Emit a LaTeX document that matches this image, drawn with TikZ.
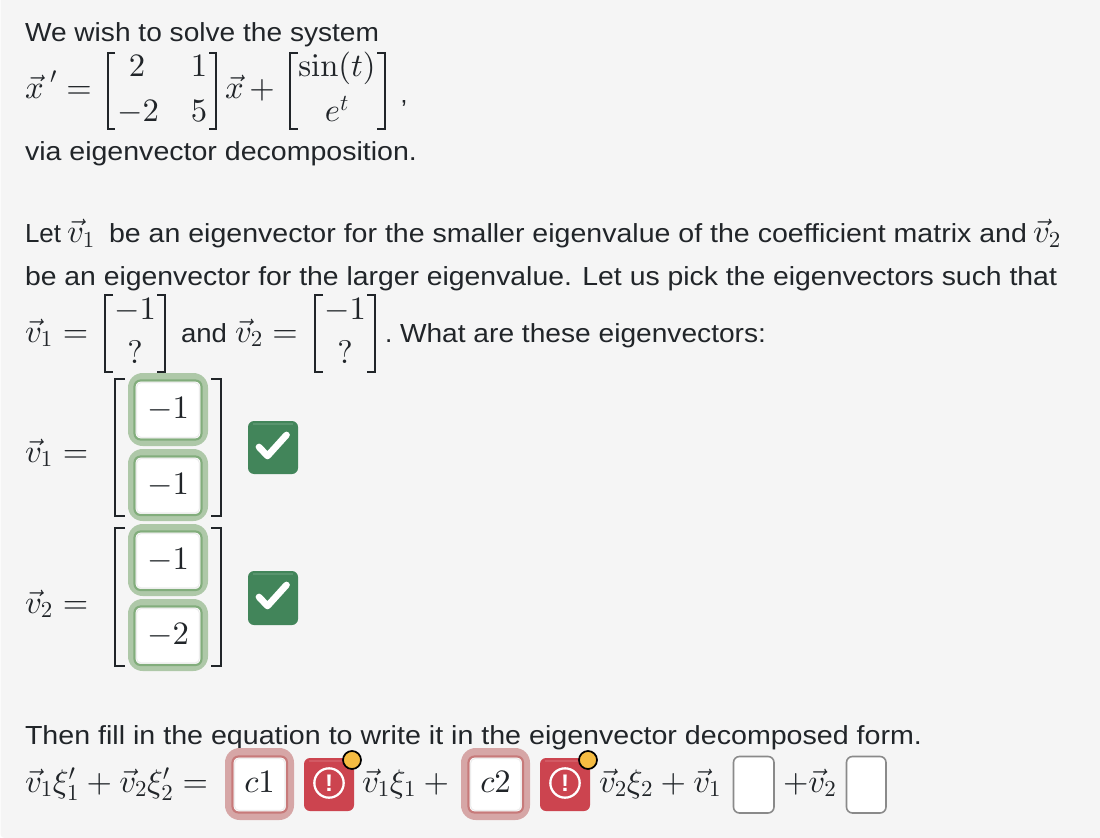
\documentclass[tikz,border=0pt]{standalone}
\usepackage{graphicx}
\usepackage{amsmath}
\usepackage[no-math]{fontspec}
\setmainfont{Liberation Sans}
\DeclareFontFamily{OT1}{cmr}{}
\DeclareFontShape{OT1}{cmr}{m}{n}{<-> cmr10}{}
\DeclareFontFamily{OML}{cmm}{\skewchar\font=127}
\DeclareFontShape{OML}{cmm}{m}{it}{<-> cmmi10}{}
\DeclareFontFamily{OMS}{cmsy}{\skewchar\font=48}
\DeclareFontShape{OMS}{cmsy}{m}{n}{<-> cmsy10}{}
\definecolor{panel}{HTML}{F5F5F5}
\definecolor{ink}{HTML}{212529}
\definecolor{okhalo}{HTML}{AEC8A8}
\definecolor{okline}{HTML}{82AD7C}
\definecolor{okfill}{HTML}{42855A}
\definecolor{badhalo}{HTML}{D6A6A6}
\definecolor{badline}{HTML}{C77A7A}
\definecolor{badfill}{HTML}{CC444F}
\definecolor{warn}{HTML}{F5BC42}
\definecolor{boxline}{HTML}{8A8A8A}
\newcommand\fitw[2]{\resizebox{\dimexpr #1pt*3/4\relax}{\height}{#2}}
\tikzset{
  x=0.75pt,y=-0.75pt,
  txt/.style={anchor=base west,inner sep=0pt,outer sep=0pt,text=ink,font=\fontsize{19.6}{24}\selectfont},
  mth/.style={anchor=base west,inner sep=0pt,outer sep=0pt,text=ink,font=\fontsize{24.5}{28}\selectfont},
  mtc/.style={anchor=base,inner sep=0pt,outer sep=0pt,text=ink,font=\fontsize{24.5}{28}\selectfont},
  brk/.style={draw=ink,line width=1.3pt,line cap=butt,line join=miter},
  tinybrk/.style={draw=ink,line width=1pt,line cap=butt,line join=miter},
  halo/.style={rounded corners=11pt,fill=#1,draw=none},
  answer/.style={rounded corners=4.5pt,fill=white,draw=#1,line width=1.6pt},
  innershade/.style={rounded corners=3.5pt,draw=black!7,line width=0.8pt},
  flag/.style={rounded corners=4.5pt,fill=#1,draw=none},
  flagtop/.style={draw=#1,line width=0.8pt},
  tickmark/.style={draw=white,line width=5pt,line cap=round,line join=round},
  warnmark/.style={circle,fill=warn,draw=black,line width=1.3pt,minimum size=13.5pt,inner sep=0pt},
  alertring/.style={circle,draw=white,line width=1.7pt,minimum size=22pt,inner sep=0pt,font=\fontsize{18}{18}\selectfont\bfseries,text=white},
}
\begin{document}
\begin{tikzpicture}
\useasboundingbox (0,0) rectangle (1100,838);
\fill[white] (0,0) rectangle (1100,838);
\fill[panel,rounded corners=3pt] (0.5,-10) -- (0.5,838) -- (1110,838) -- (1110,-10) -- cycle;
% top text
\node[txt] (t1) at (25,42) {\fitw{354}{We wish to solve the system}};
\node[mth] (xp) at (25,99) {$\vec{x}$};
\node[mth] (xprime) at (50,95) {$'$};
\node[mtc] (eq0) at (79,99) {$=$};
\draw[brk] (115,53) -- (108,53) -- (108,129) -- (115,129);
\draw[brk] (209,53) -- (216,53) -- (216,129) -- (209,129);
\node[mtc] (a11) at (137,77) {$2$};
\node[mtc] (a12) at (199,77) {$1$};
\node[mtc] (a21) at (138,122) {$-2$};
\node[mtc] (a22) at (199,122) {$5$};
\node[mth] (xv) at (225,99) {$\vec{x}$};
\node[mtc] (pl0) at (262,99) {$+$};
\draw[brk] (298,53) -- (290,53) -- (290,129) -- (298,129);
\draw[brk] (377,53) -- (385,53) -- (385,129) -- (377,129);
\node[mtc] (s1) at (337,77) {$\sin(t)$};
\node[mtc] (s2) at (337,122) {$e^{t}$};
\node[txt] (cm) at (401,119) {'};
\node[txt] (t2) at (25,161) {\fitw{392}{via eigenvector decomposition.}};
% paragraph
\node[txt] (l1a) at (25,243) {\fitw{36}{Let}};
\node[mth] (l1b) at (67,243) {$\vec{v}_1$};
\node[txt] (l1c) at (109,243) {\fitw{918}{be an eigenvector for the smaller eigenvalue of the coefficient matrix and}};
\node[mth] (l1d) at (1033,243) {$\vec{v}_2$};
\node[txt] (l2) at (25,285) {\fitw{1032}{be an eigenvector for the larger eigenvalue. Let us pick the eigenvectors such that}};
\node[mth] (v1a) at (25,342) {$\vec{v}_1$};
\node[mtc] (eq1) at (75.5,342) {$=$};
\draw[tinybrk] (113,295) -- (105,295) -- (105,372) -- (113,372);
\draw[tinybrk] (157,295) -- (165,295) -- (165,372) -- (157,372);
\node[mtc] (m1a) at (135,319) {$-1$};
\node[mtc] (m1b) at (135,363) {$?$};
\node[txt] (and) at (181,342) {\fitw{46}{and}};
\node[mth] (v2a) at (235,342) {$\vec{v}_2$};
\node[mtc] (eq2) at (285,342) {$=$};
\draw[tinybrk] (323,295) -- (315,295) -- (315,372) -- (323,372);
\draw[tinybrk] (367,295) -- (375,295) -- (375,372) -- (367,372);
\node[mtc] (m2a) at (345,319) {$-1$};
\node[mtc] (m2b) at (345,363) {$?$};
\node[txt] (what) at (385,342) {.};
\node[txt] (whatb) at (400,342) {\fitw{366}{What are these eigenvectors:}};
% eigenvector answers
\node[mth] (v1b) at (25,462) {$\vec{v}_1$};
\node[mtc] (eq3) at (75.5,462) {$=$};
\draw[brk] (125,379) -- (115,379) -- (115,516) -- (125,516);
\draw[brk] (211,379) -- (221,379) -- (221,516) -- (211,516);
\path[halo=okhalo] (128,373) rectangle (208,446);
\path[answer=okline] (134.5,380.5) rectangle (201.5,439.5);
\path[innershade] (136.5,382.5) rectangle (199.5,437.5);
\node[mtc] (e1) at (168,418) {$-1$};
\path[halo=okhalo] (128,449) rectangle (208,521);
\path[answer=okline] (134.5,456.5) rectangle (201.5,515);
\path[innershade] (136.5,458.5) rectangle (199.5,513);
\node[mtc] (e2) at (168,494) {$-1$};
\path[flag=okfill] (248,421) rectangle (298,474);
\path[flagtop=okfill!88!white] (253,424) -- (293,424);
\draw[tickmark] (259,447) -- (267.5,456) -- (286.5,435);
\node[mth] (v2b) at (25,613) {$\vec{v}_2$};
\node[mtc] (eq4) at (75.5,613) {$=$};
\draw[brk] (125,528) -- (115,528) -- (115,666) -- (125,666);
\draw[brk] (211,528) -- (221,528) -- (221,666) -- (211,666);
\path[halo=okhalo] (128,524) rectangle (208,596);
\path[answer=okline] (134.5,531.5) rectangle (201.5,590);
\path[innershade] (136.5,533.5) rectangle (199.5,588);
\node[mtc] (e3) at (168,569) {$-1$};
\path[halo=okhalo] (128,599) rectangle (208,671);
\path[answer=okline] (134.5,606.5) rectangle (201.5,665);
\path[innershade] (136.5,608.5) rectangle (199.5,663);
\node[mtc] (e4) at (168,644) {$-2$};
\path[flag=okfill] (248,571) rectangle (298,625);
\path[flagtop=okfill!88!white] (253,574) -- (293,574);
\draw[tickmark] (259,597) -- (267.5,606) -- (286.5,585);
% bottom line
\node[txt] (t3) at (25,744) {\fitw{897}{Then fill in the equation to write it in the eigenvector decomposed form.}};
\node[mth] (eqn) at (25,792) {$\vec{v}_1\xi_1' + \vec{v}_2\xi_2' ={}$};
\path[halo=badhalo] (225,748) rectangle (294,820);
\path[answer=badline] (232.5,756.5) rectangle (287,812.5);
\path[innershade] (234.5,758.5) rectangle (285,810.5);
\node[mtc] (c1) at (259.5,792) {$c1$};
\path[flag=badfill] (304,758) rectangle (354,811);
\path[flagtop=badfill!88!white] (309,761) -- (349,761);
\node[alertring] (al1) at (329,783) {!};
\node[warnmark] (w1) at (352,760) {};
\node[mth] (seg1) at (362,792) {$\vec{v}_1\xi_1 +{}$};
\path[halo=badhalo] (461,748) rectangle (530,820);
\path[answer=badline] (468.5,756.5) rectangle (523,812.5);
\path[innershade] (470.5,758.5) rectangle (521,810.5);
\node[mtc] (c2) at (495.5,792) {$c2$};
\path[flag=badfill] (540,758) rectangle (590,811);
\path[flagtop=badfill!88!white] (545,761) -- (585,761);
\node[alertring] (al2) at (565,783) {!};
\node[warnmark] (w2) at (588,760) {};
\node[mth] (seg2) at (599,792) {$\vec{v}_2\xi_2 + \vec{v}_1$};
\path[rounded corners=4.5pt,fill=white,draw=boxline,line width=1.2pt] (733.5,756.5) rectangle (774,813);
\node[mth] (seg3) at (783,792) {$+\vec{v}_2$};
\path[rounded corners=4.5pt,fill=white,draw=boxline,line width=1.2pt] (846.5,756.5) rectangle (886,813);
\end{tikzpicture}
\end{document}
